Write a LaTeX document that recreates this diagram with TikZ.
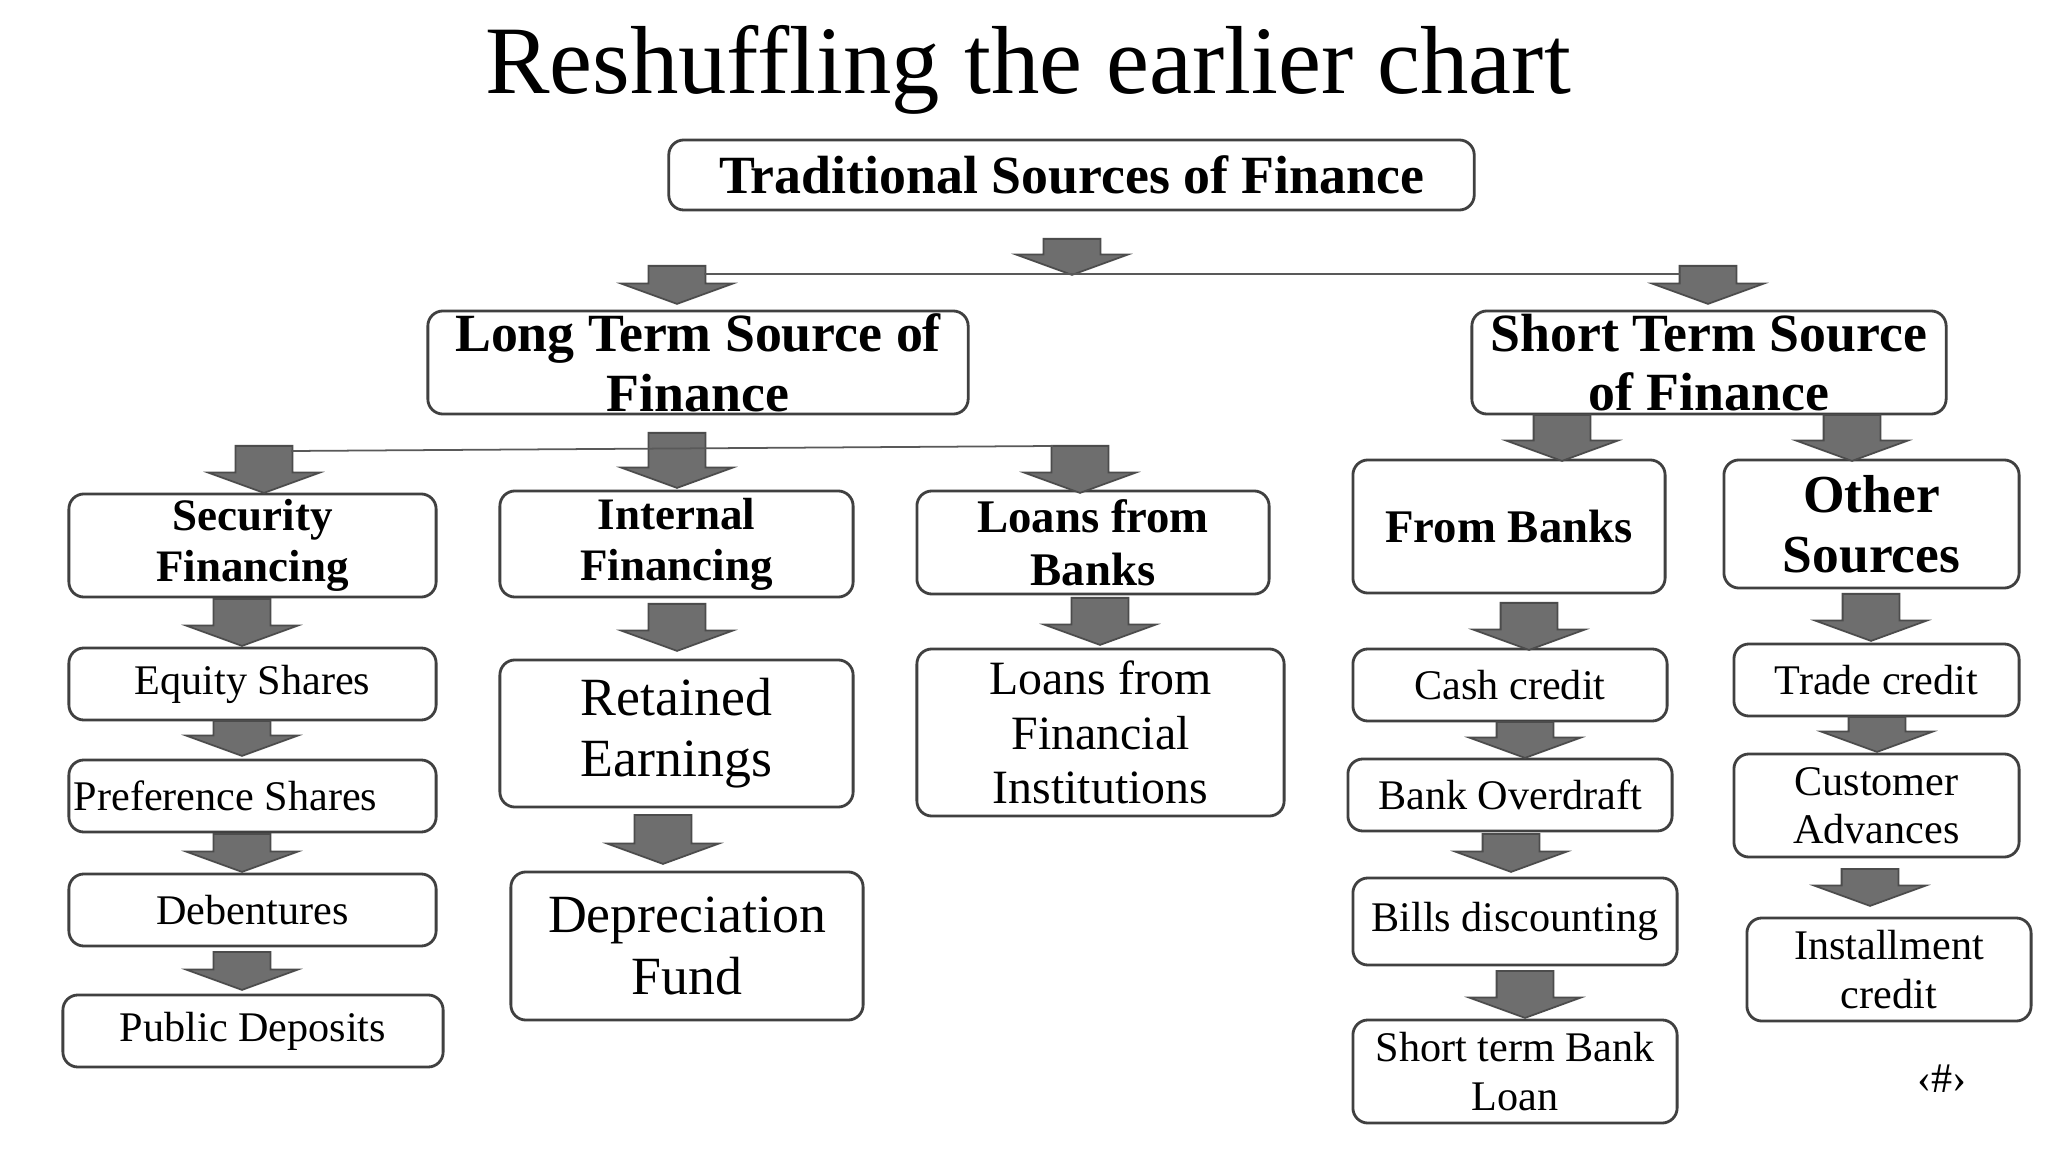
\documentclass[tikz,border=0pt]{standalone}
\usepackage{fontspec}
\setmainfont{Liberation Serif}
\usetikzlibrary{shapes.arrows}

\begin{document}
\begin{tikzpicture}[x=0.01cm, y=-0.01cm,
        srcbox/.style = {rectangle, rounded corners=0.15cm, draw=black!75, line width=0.8pt, fill=white, align=center, inner sep=0pt},
        flowarrow/.style = {single arrow, rotate=-90, anchor=tail, draw=black!70, fill=black!57, line width=0.5pt,
                inner xsep=0pt, inner ysep=0.275cm, single arrow head extend=0.275cm, single arrow tip angle=140, minimum height=#1},
        link/.style = {draw=black!65, line width=0.5pt}
        ]
        \fill[white] (0,0) rectangle (2048,1152);
        \useasboundingbox (0,0) rectangle (2048,1152);

        \node[font=\fontsize{27.5}{33}\selectfont, anchor=base] (title) at (1028,94) {Reshuffling the earlier chart};
        \node[srcbox, minimum width=8.05cm, minimum height=0.70cm, font=\bfseries\fontsize{15.3}{17}\selectfont] (trad) at (1071.5,175) {Traditional Sources of Finance};

        % long and short term
        \node[srcbox, minimum width=5.40cm, minimum height=1.03cm, font=\bfseries\fontsize{15.3}{17}\selectfont] (long) at (698,362.5) {Long Term Source of\\Finance};
        \node[srcbox, minimum width=4.74cm, minimum height=1.03cm, font=\bfseries\fontsize{15.3}{17}\selectfont] (short) at (1709,362.5) {Short Term Source\\of Finance};

        % second level
        \node[srcbox, minimum width=3.67cm, minimum height=1.03cm, font=\bfseries\fontsize{12.8}{14.5}\selectfont] (sec) at (252.5,545.5) {Security\\Financing};
        \node[srcbox, minimum width=3.53cm, minimum height=1.06cm, font=\bfseries\fontsize{12.8}{14.5}\selectfont] (intl) at (676.5,544) {Internal\\Financing};
        \node[srcbox, minimum width=3.52cm, minimum height=1.03cm, font=\bfseries\fontsize{13.3}{15.2}\selectfont] (lfb) at (1093,542.5) {Loans from\\Banks};
        \node[srcbox, minimum width=3.12cm, minimum height=1.33cm, font=\bfseries\fontsize{13.3}{15.2}\selectfont] (fromb) at (1509,526.5) {From Banks};
        \node[srcbox, minimum width=2.95cm, minimum height=1.28cm, font=\bfseries\fontsize{15.2}{17}\selectfont] (other) at (1871.5,524) {Other\\Sources};

        % security financing
        \node[srcbox, minimum width=3.67cm, minimum height=0.72cm, font=\fontsize{12}{13.7}\selectfont] (equity) at (252.5,684) {Equity Shares};
        \node[srcbox, text width=3.57cm, inner xsep=0.05cm, align=flush left, minimum height=0.72cm, font=\fontsize{12}{13.7}\selectfont] (pref) at (252.5,796) {Preference Shares};
        \node[srcbox, minimum width=3.67cm, minimum height=0.72cm, font=\fontsize{12}{13.7}\selectfont] (deb) at (252.5,910) {Debentures};
        \node[srcbox, minimum width=3.80cm, minimum height=0.72cm, font=\fontsize{12}{13.7}\selectfont] (pub) at (253,1031) {Public Deposits};

        % internal financing and loans
        \node[srcbox, minimum width=3.53cm, minimum height=1.47cm, font=\fontsize{15.3}{17.4}\selectfont] (ret) at (676.5,733.5) {Retained\\Earnings};
        \node[srcbox, minimum width=3.52cm, minimum height=1.48cm, font=\fontsize{15.3}{17.4}\selectfont] (dep) at (687,946) {Depreciation\\Fund};
        \node[srcbox, minimum width=3.67cm, minimum height=1.67cm, font=\fontsize{13.6}{15.4}\selectfont] (lfi) at (1100.5,732.5) {Loans from\\Financial\\Institutions};

        % short term: banks
        \node[srcbox, minimum width=3.14cm, minimum height=0.72cm, font=\fontsize{12}{13.7}\selectfont] (cash) at (1510,685) {Cash credit};
        \node[srcbox, minimum width=3.24cm, minimum height=0.72cm, font=\fontsize{12}{13.7}\selectfont] (od) at (1510,795) {Bank Overdraft};
        \node[srcbox, minimum width=3.24cm, minimum height=0.87cm, font=\fontsize{12}{13.7}\selectfont] (bills) at (1515,921.5) {Bills discounting};
        \node[srcbox, minimum width=3.24cm, minimum height=1.03cm, font=\fontsize{12}{13.7}\selectfont] (stbl) at (1515,1071.5) {Short term Bank\\Loan};

        % short term: other sources
        \node[srcbox, minimum width=2.85cm, minimum height=0.72cm, font=\fontsize{12}{13.7}\selectfont] (trade) at (1876.5,680) {Trade credit};
        \node[srcbox, minimum width=2.85cm, minimum height=1.03cm, font=\fontsize{12}{13.7}\selectfont] (cust) at (1876.5,805.5) {Customer\\Advances};
        \node[srcbox, minimum width=2.84cm, minimum height=1.03cm, font=\fontsize{12}{13.7}\selectfont] (inst) at (1889,969.5) {Installment\\credit};

        \node[font=\fontsize{12}{14}\selectfont] (pagenum) at (1942,1079) {‹\#›};

        % block arrows
        \node[flowarrow=0.36cm] (a0) at (1072,238) {};
        \node[flowarrow=0.38cm] (a1) at (677,265) {};
        \node[flowarrow=0.38cm] (a2) at (1708,265) {};
        \node[flowarrow=0.47cm] (a3) at (264,445) {};
        \node[flowarrow=0.55cm] (a4) at (677,432) {};
        \node[flowarrow=0.47cm] (a5) at (1080,445) {};
        \node[flowarrow=0.46cm] (a6) at (1562,414) {};
        \node[flowarrow=0.46cm] (a7) at (1852,414) {};
        \node[flowarrow=0.47cm] (a8) at (242,598) {};
        \node[flowarrow=0.35cm] (a9) at (242,720) {};
        \node[flowarrow=0.38cm] (a10) at (242,833) {};
        \node[flowarrow=0.38cm] (a11) at (242,951) {};
        \node[flowarrow=0.47cm] (a12) at (677,603) {};
        \node[flowarrow=0.49cm] (a13) at (663,814) {};
        \node[flowarrow=0.47cm] (a14) at (1100,597) {};
        \node[flowarrow=0.47cm] (a15) at (1529,602) {};
        \node[flowarrow=0.36cm] (a16) at (1525,721) {};
        \node[flowarrow=0.38cm] (a17) at (1511,833) {};
        \node[flowarrow=0.47cm] (a18) at (1525,970) {};
        \node[flowarrow=0.47cm] (a19) at (1871,593) {};
        \node[flowarrow=0.35cm] (a20) at (1877,716) {};
        \node[flowarrow=0.37cm] (a21) at (1870,868) {};

        % joining lines
        \draw[link] ([shift={(27,9)}]a1.tail) -- ([shift={(-27,9)}]a2.tail);
        \draw[link] ([shift={(27,6)}]a3.tail) -- ([shift={(-27,1)}]a5.tail);
\end{tikzpicture}
\end{document}
